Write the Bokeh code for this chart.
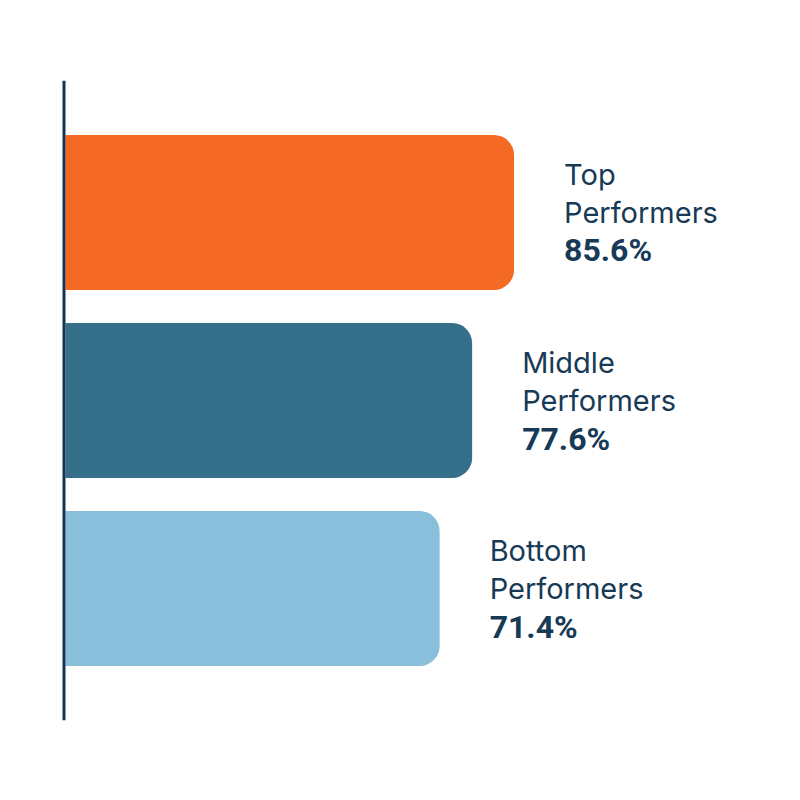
from bokeh.plotting import figure
from bokeh.models import Range1d, Span, ColumnDataSource
from bokeh.core.properties import value
from bokeh.embed import file_html
from bokeh.resources import INLINE

# Data
categories = ["Top Performers", "Middle Performers", "Bottom Performers"]
values = [85.6, 77.6, 71.4]
colors = ["#F46A24", "#366F8A", "#8ABFDB"]

first_line = [c.split(" ")[0] for c in categories]
second_line = [c.split(" ")[1] for c in categories]
value_labels = [f"{v:.1f}%" for v in values]
ypos = list(range(len(categories)))

src = ColumnDataSource(dict(y=ypos, v=values, c=colors, l1=first_line,
                            l2=second_line, lv=value_labels))

W = H = 784
p = figure(width=W, height=H, output_backend="svg", toolbar_location=None,
           x_range=Range1d(-3.244, 137.21), y_range=Range1d(2.702, -0.702),
           min_border_left=48, min_border_right=0,
           min_border_top=80, min_border_bottom=64)
p.axis.visible = False
p.grid.visible = False
p.outline_line_color = None
p.background_fill_color = "white"
p.border_fill_color = "white"

p.hbar(y="y", left=0, right="v", height=0.824, fill_color="c", line_color=None,
       border_radius=(0, 20, 20, 0), source=src)

p.add_layout(Span(location=-0.286, dimension="height", line_color="#16344F",
                  line_width=3))

txt_color = "#173A56"
p.text(x="v", y="y", text="l1", source=src, x_offset=50, y_offset=-38,
       text_font=value("Inter"), text_font_size="29px", text_color=txt_color,
       text_baseline="alphabetic", text_align="left")
p.text(x="v", y="y", text="l2", source=src, x_offset=50, y_offset=0,
       text_font=value("Inter"), text_font_size="29px", text_color=txt_color,
       text_baseline="alphabetic", text_align="left")
p.text(x="v", y="y", text="lv", source=src, x_offset=50, y_offset=38,
       text_font=value("Roboto"), text_font_style="bold", text_font_size="32px",
       text_color=txt_color, text_baseline="alphabetic", text_align="left")

open("out.html", "w").write(file_html(p, INLINE))
